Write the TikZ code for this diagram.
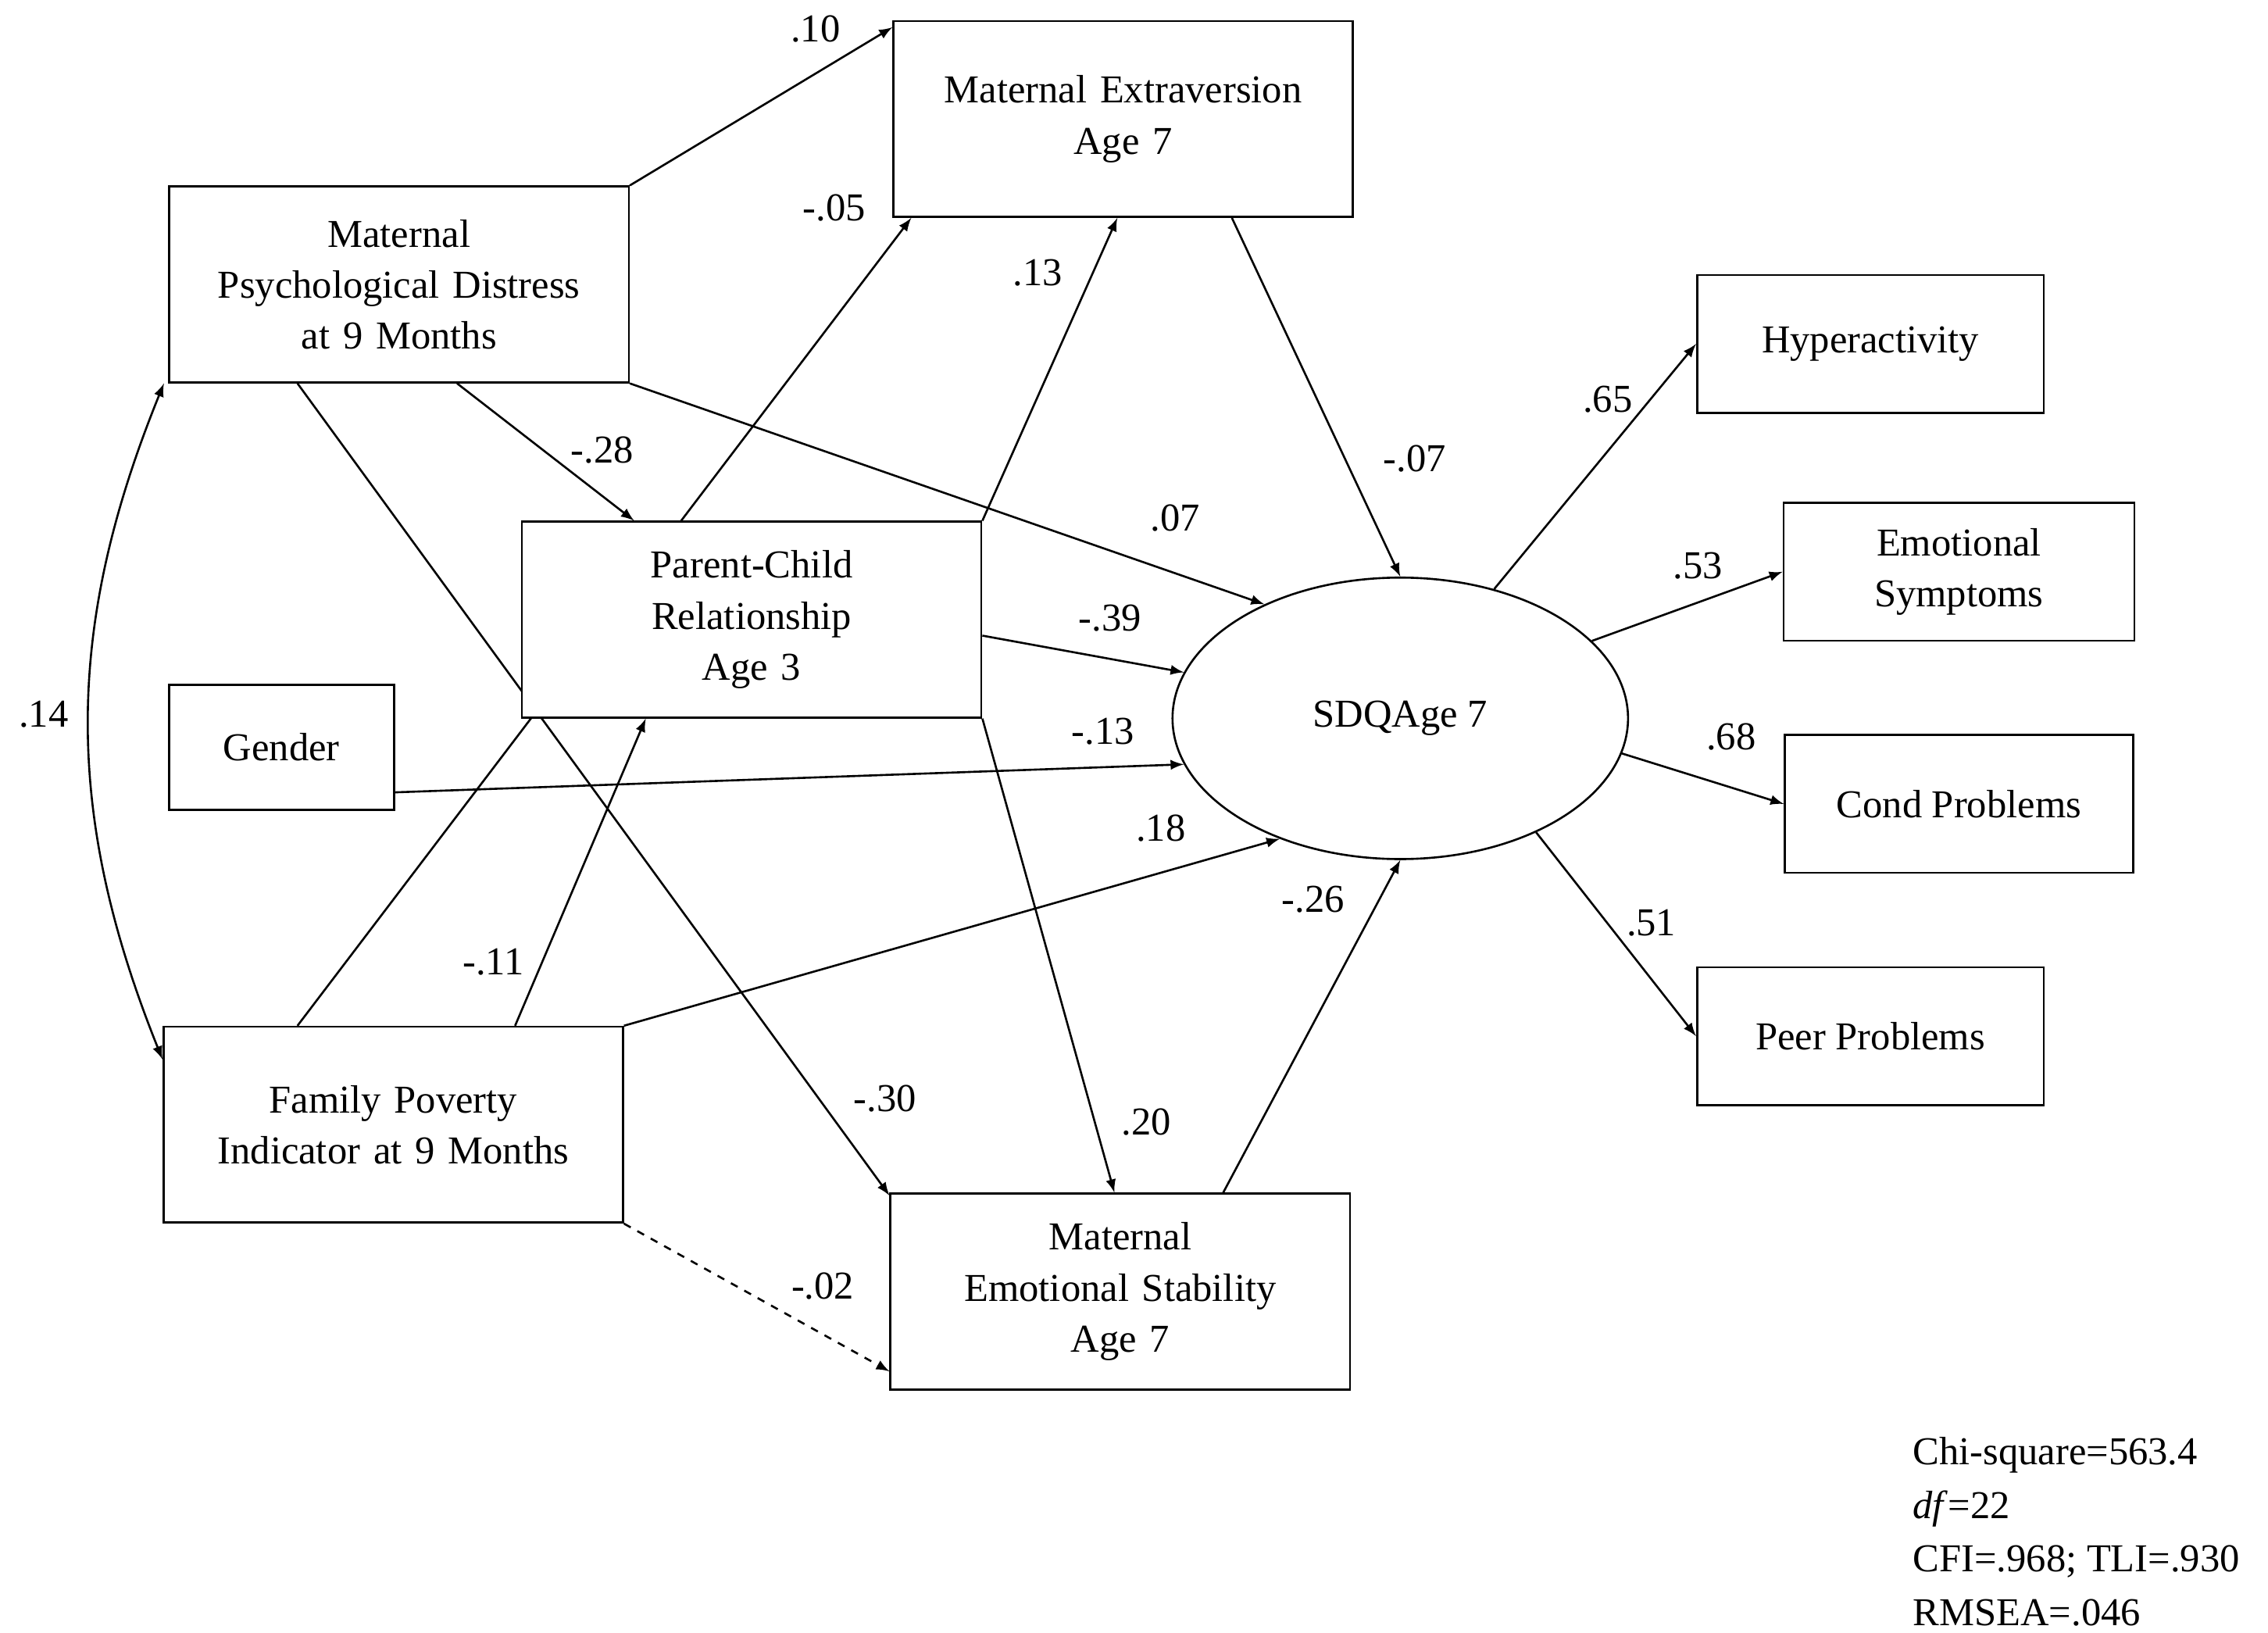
\documentclass[tikz,border=0pt]{standalone}
\usepackage{fontspec}
\setmainfont{Liberation Serif}
\usetikzlibrary{shapes.geometric}
\usetikzlibrary{backgrounds}

\begin{document}
\begin{tikzpicture}[
    x=0.02cm, y=-0.02cm,
    every node/.style={
        font=\fontsize{15.5}{20}\selectfont
    },
    measure/.style={
        minimum width=6.3cm, minimum height=2.7cm,
        text width=6.1cm,
        text centered,
        rectangle,
        draw, thick, fill=white
    },
    small/.style={
        minimum height=1.9cm,
        text centered,
        rectangle,
        draw, thick, fill=white
    },
    latent/.style={
        minimum width=6.28cm, minimum height=3.88cm,
        ellipse,
        text centered,
        draw, thick, fill=white
    },
    path/.style={
        ->, >=latex, thick
    }
]
\useasboundingbox (0,0) rectangle (1563,1125);

\node (mpd)    [measure] at (275,196) {Maternal\\Psychological Distress\\at 9 Months};
\node (me)     [measure] at (774,82)  {Maternal Extraversion\\Age 7};
\node (pcr)    [measure] at (518,427) {Parent-Child\\Relationship\\Age 3};
\node (gender) [small, minimum width=3.1cm, minimum height=1.72cm] at (194,515) {Gender};
\node (fp)     [measure, minimum width=6.14cm] at (271,775) {Family Poverty\\Indicator at 9 Months};
\node (mes)    [measure] at (772,890) {Maternal\\Emotional Stability\\Age 7};
\node (sdq)    [latent]  at (965,495) {SDQ\\Age 7};
\node (hyper)  [small, minimum width=4.78cm] at (1289,237) {Hyperactivity};
\node (emot)   [small, minimum width=4.8cm, text width=4.6cm] at (1350,394) {Emotional\\Symptoms};
\node (cond)   [small, minimum width=4.8cm] at (1350,554) {Cond Problems};
\node (peer)   [small, minimum width=4.78cm] at (1289,714) {Peer Problems};

\begin{scope}[on background layer]
\draw[path] (mpd.north east) -- ([yshift=-0.1cm]me.north west);
\draw[path] ([xshift=-1.32cm]fp.north) -- ([xshift=0.26cm]me.south west);
\draw[path] (pcr.north east) -- ([xshift=-0.08cm]me.south);
\draw[path] ([xshift=1.5cm]me.south) -- (sdq.90);
\draw[path] ([xshift=0.8cm]mpd.south) -- ([xshift=-1.62cm]pcr.north);
\draw[path] (mpd.south east) -- (sdq.140);
\draw[path] ([xshift=-1.4cm]mpd.south) -- ([yshift=-0.04cm]mes.north west);
\draw[path] ([yshift=-0.22cm]pcr.east) -- (sdq.168);
\draw[path] ([yshift=-0.62cm]gender.east) -- (sdq.192);
\draw[path] (fp.north east) -- (sdq.225);
\draw[path] ([xshift=1.68cm]fp.north) -- ([xshift=-1.46cm]pcr.south);
\draw[path, dashed] (fp.south east) -- ([yshift=-1.1cm]mes.west);
\draw[path] (pcr.south east) -- ([xshift=-0.08cm]mes.north);
\draw[path] ([xshift=1.42cm]mes.north) -- (sdq.270);
\draw[path] (sdq.54) -- (hyper.west);
\draw[path] (sdq.22) -- (emot.west);
\draw[path] (sdq.-9) -- (cond.west);
\draw[path] (sdq.-40) -- (peer.west);
\draw[path, <->] ([xshift=-0.06cm]mpd.south west) to[bend right=22] ([yshift=0.9cm]fp.west);
\end{scope}

% path coefficients
\node (c1)  at (562,20)  {.10};
\node (c2)  at (575,143) {-.05};
\node (c3)  at (715,188) {.13};
\node (c4)  at (975,316) {-.07};
\node (c5)  at (415,310) {-.28};
\node (c6)  at (810,357) {.07};
\node (c7)  at (610,757) {-.30};
\node (c8)  at (765,426) {-.39};
\node (c9)  at (760,504) {-.13};
\node (c10) at (800,571) {.18};
\node (c11) at (340,663) {-.11};
\node (c12) at (567,886) {-.02};
\node (c13) at (790,773) {.20};
\node (c14) at (905,620) {-.26};
\node (c15) at (1108,275) {.65};
\node (c16) at (1170,390) {.53};
\node (c17) at (1193,508) {.68};
\node (c18) at (1138,636) {.51};
\node (c19) at (30,492)  {.14};

\node (fit) [anchor=north west, inner sep=0pt, align=left,
    font=\fontsize{15.5}{21}\selectfont] at (1318,990)
    {Chi-square=563.4\\\textit{df}=22\\CFI=.968;\ TLI=.930\\RMSEA=.046};
\end{tikzpicture}
\end{document}
